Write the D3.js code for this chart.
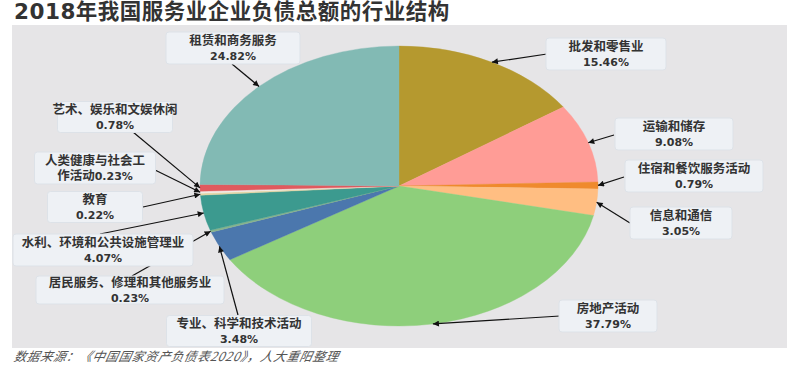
<!DOCTYPE html>
<meta charset="utf-8">
<script src="https://d3js.org/d3.v7.min.js"></script>
<style>
  body { margin: 0; background: #fff; }
</style>
<div id="chart"></div>
<script>

// industries, clockwise from 12 o'clock
var industries = ["批发和零售业", "运输和储存", "住宿和餐饮服务活动", "信息和通信", "房地产活动",
  "专业、科学和技术活动", "居民服务、修理和其他服务业", "水利、环境和公共设施管理业", "教育",
  "人类健康与社会工作活动", "艺术、娱乐和文娱休闲", "租赁和商务服务"]
var shares = [15.46, 9.08, 0.79, 3.05, 37.79, 3.48, 0.23, 4.07, 0.22, 0.23, 0.78, 24.82]
var colors = ["#b5992f", "#ff9c96", "#ef8a2d", "#ffbe82", "#8ecf7b", "#4b77ad",
  "#86b38c", "#3c9a8f", "#e4d6a6", "#f2ece6", "#e05a5e", "#82bab4"]

// label box text lines (same order as above)
var labelLines = [
  ["批发和零售业", "15.46%"],
  ["运输和储存", "9.08%"],
  ["住宿和餐饮服务活动", "0.79%"],
  ["信息和通信", "3.05%"],
  ["房地产活动", "37.79%"],
  ["专业、科学和技术活动", "3.48%"],
  ["居民服务、修理和其他服务业", "0.23%"],
  ["水利、环境和公共设施管理业", "4.07%"],
  ["教育", "0.22%"],
  ["人类健康与社会工", "作活动0.23%"],
  ["艺术、娱乐和文娱休闲", "0.78%"],
  ["租赁和商务服务", "24.82%"]
]

var width = 797, height = 370

var svg = d3.select("#chart").append("svg")
  .attr("width", width)
  .attr("height", height)

// title
svg.append("text")
  .attr("x", 14).attr("y", 19)
  .style("font-family", "'DejaVu Sans', 'Noto Sans CJK SC', sans-serif")
  .style("font-weight", "bold")
  .style("font-size", "21.5px")
  .style("letter-spacing", "0.5px")
  .style("fill", "#333")
  .text("2018年我国服务业企业负债总额的行业结构")

// grey panel
svg.append("rect")
  .attr("x", 12).attr("y", 25)
  .attr("width", 775).attr("height", 323)
  .attr("fill", "#e6e5e7")

// source note
svg.append("text")
  .attr("x", 14).attr("y", 361)
  .style("font-family", "'Noto Sans CJK SC', sans-serif")
  .style("font-style", "italic")
  .style("font-size", "12.5px")
  .style("letter-spacing", "0.6px")
  .style("fill", "#555")
  .attr("transform", "skewX(-12) translate(76,0)")
  .text("数据来源：《中国国家资产负债表2020》，人大重阳整理")

// pie, drawn as a circle then stretched into an ellipse
var cx = 399, cy = 186, rx = 199, ry = 140

var data = industries.map(function(d, i) { return {name: d, value: shares[i], color: colors[i]} })

var pie = d3.pie().sort(null).value(function(d) { return d.value })
var arcs = pie(data)
var arc = d3.arc().innerRadius(0).outerRadius(ry)

var g = svg.append("g")
  .attr("transform", "translate(" + cx + "," + cy + ") scale(" + (rx / ry) + ",1)")

g.selectAll("path")
  .data(arcs)
  .enter().append("path")
  .attr("d", arc)
  .attr("fill", function(d) { return d.data.color })
  .attr("stroke", function(d) { return d.data.color })
  .attr("stroke-width", 0.3)

// label boxes: centre, size and where the arrow leaves the box
var boxes = [
  {x: 606, y: 54, w: 120, h: 32, sx: 547, sy: 54},
  {x: 674, y: 134, w: 118, h: 32, sx: 614, sy: 135},
  {x: 694, y: 176, w: 138, h: 32, sx: 624, sy: 177},
  {x: 681, y: 223, w: 102, h: 32, sx: 630, sy: 223},
  {x: 608, y: 316, w: 98, h: 32, sx: 560, sy: 316},
  {x: 239, y: 331, w: 145, h: 31, sx: 238, sy: 315},
  {x: 130, y: 290, w: 188, h: 28, sx: 132, sy: 276},
  {x: 103, y: 250, w: 180, h: 32, sx: 100, sy: 234},
  {x: 95, y: 207, w: 95, h: 31, sx: 143, sy: 207},
  {x: 95, y: 168, w: 121, h: 32, sx: 155, sy: 170},
  {x: 115, y: 117, w: 115, h: 31, sx: 133, sy: 132},
  {x: 233, y: 48, w: 134, h: 32, sx: 232, sy: 64}
]

svg.append("defs").append("marker")
  .attr("id", "arrow")
  .attr("viewBox", "0 0 10 10")
  .attr("refX", 10).attr("refY", 5)
  .attr("markerWidth", 7).attr("markerHeight", 6)
  .attr("markerUnits", "userSpaceOnUse")
  .attr("orient", "auto")
  .append("path")
  .attr("d", "M0,0L10,5L0,10z")
  .attr("fill", "#111")

// arrows point at the middle of each slice on the ellipse edge
svg.append("g").selectAll("line")
  .data(arcs)
  .enter().append("line")
  .attr("x1", function(d, i) { return boxes[i].sx })
  .attr("y1", function(d, i) { return boxes[i].sy })
  .attr("x2", function(d) { var a = (d.startAngle + d.endAngle) / 2; return cx + rx * Math.sin(a) })
  .attr("y2", function(d) { var a = (d.startAngle + d.endAngle) / 2; return cy - ry * Math.cos(a) })
  .attr("stroke", "#111")
  .attr("stroke-width", 1.2)
  .attr("marker-end", "url(#arrow)")

var labels = svg.append("g").selectAll("g")
  .data(boxes)
  .enter().append("g")
  .attr("transform", function(d) { return "translate(" + d.x + "," + d.y + ")" })

labels.append("rect")
  .attr("x", function(d) { return -d.w / 2 })
  .attr("y", function(d) { return -d.h / 2 })
  .attr("width", function(d) { return d.w })
  .attr("height", function(d) { return d.h })
  .attr("rx", 3)
  .attr("fill", "#eef1f5")
  .attr("stroke", "#dde2e8")

// split a line into CJK and latin runs so digits get a narrower size
function runs(s) {
  return s.match(/[\u3000-\u9fff\uff00-\uffef]+|[^\u3000-\u9fff\uff00-\uffef]+/g)
}

labels.each(function(d, i) {
  var t = d3.select(this).append("text")
    .attr("text-anchor", "middle")
    .style("font-weight", "bold")
    .style("fill", "#333")
  labelLines[i].forEach(function(line, k) {
    var row = t.append("tspan").attr("x", 0).attr("y", k == 0 ? -3.5 : 11.5)
    runs(line).forEach(function(r) {
      var cjk = /[\u3000-\u9fff\uff00-\uffef]/.test(r)
      row.append("tspan")
        .style("font-family", cjk ? "'Noto Sans CJK SC', sans-serif" : "'DejaVu Sans', sans-serif")
        .style("font-size", cjk ? "12.5px" : "11px")
        .text(r)
    })
  })
})

</script>
